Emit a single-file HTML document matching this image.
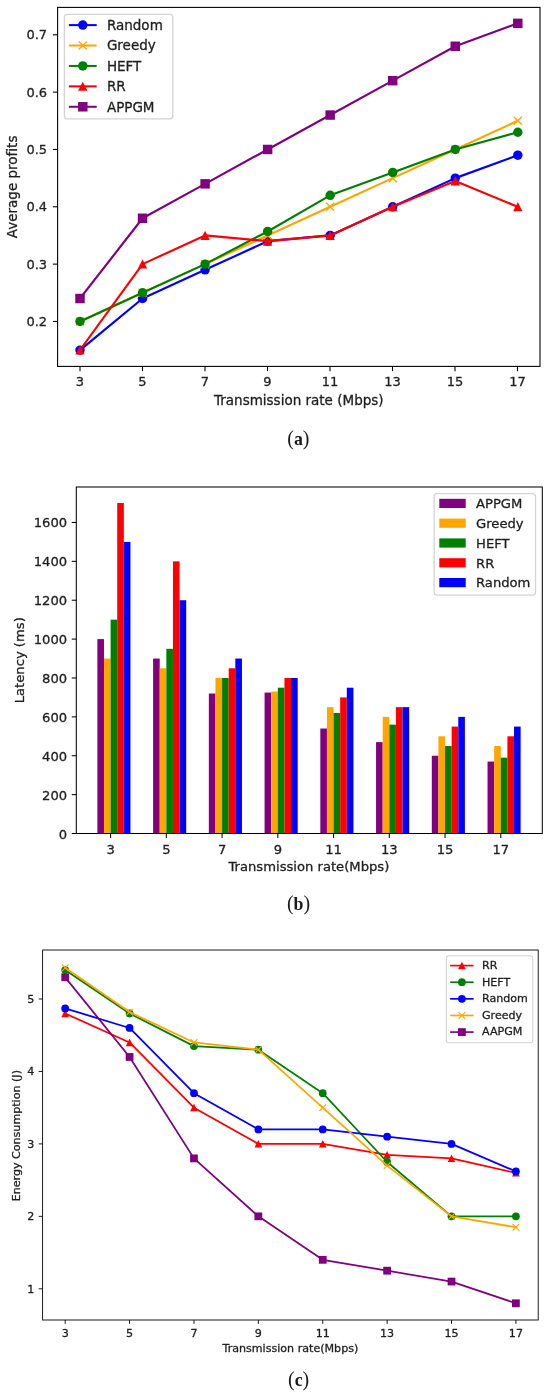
<!DOCTYPE html>
<html lang="en"><head><meta charset="utf-8"><title>Figure</title>
<style>html,body{margin:0;padding:0;background:#fff}svg{display:block}text{font-variant-ligatures:none;font-kerning:normal}</style></head><body>
<svg width="550" height="1396" viewBox="0 0 550 1396">
<rect width="550" height="1396" fill="#fff"/>
<g>
<rect x="57.6" y="7.4" width="482.4" height="359" fill="#fff"/>
<polyline points="80,350.11 142.54,298.52 205.09,269.85 267.63,241.19 330.17,235.45 392.71,206.79 455.26,178.12 517.8,155.19" fill="none" stroke="#0000ff" stroke-width="2.16" stroke-linejoin="round" stroke-linecap="square"/>
<circle cx="80" cy="350.11" r="4.73" fill="#0000ff"/>
<circle cx="142.54" cy="298.52" r="4.73" fill="#0000ff"/>
<circle cx="205.09" cy="269.85" r="4.73" fill="#0000ff"/>
<circle cx="267.63" cy="241.19" r="4.73" fill="#0000ff"/>
<circle cx="330.17" cy="235.45" r="4.73" fill="#0000ff"/>
<circle cx="392.71" cy="206.79" r="4.73" fill="#0000ff"/>
<circle cx="455.26" cy="178.12" r="4.73" fill="#0000ff"/>
<circle cx="517.8" cy="155.19" r="4.73" fill="#0000ff"/>
<polyline points="80,321.45 142.54,292.78 205.09,264.12 267.63,235.45 330.17,206.79 392.71,178.12 455.26,149.46 517.8,120.79" fill="none" stroke="#ffa500" stroke-width="2.16" stroke-linejoin="round" stroke-linecap="square"/>
<path d="M75.95 317.4L84.05 325.5M75.95 325.5L84.05 317.4" stroke="#ffa500" stroke-width="1.35" fill="none"/>
<path d="M138.49 288.73L146.6 296.84M138.49 296.84L146.6 288.73" stroke="#ffa500" stroke-width="1.35" fill="none"/>
<path d="M201.03 260.07L209.14 268.17M201.03 268.17L209.14 260.07" stroke="#ffa500" stroke-width="1.35" fill="none"/>
<path d="M263.58 231.4L271.68 239.51M263.58 239.51L271.68 231.4" stroke="#ffa500" stroke-width="1.35" fill="none"/>
<path d="M326.12 202.74L334.22 210.84M326.12 210.84L334.22 202.74" stroke="#ffa500" stroke-width="1.35" fill="none"/>
<path d="M388.66 174.07L396.77 182.18M388.66 182.18L396.77 174.07" stroke="#ffa500" stroke-width="1.35" fill="none"/>
<path d="M451.2 145.41L459.31 153.51M451.2 153.51L459.31 145.41" stroke="#ffa500" stroke-width="1.35" fill="none"/>
<path d="M513.75 116.74L521.85 124.85M513.75 124.85L521.85 116.74" stroke="#ffa500" stroke-width="1.35" fill="none"/>
<polyline points="80,321.45 142.54,292.78 205.09,264.12 267.63,231.44 330.17,195.32 392.71,172.39 455.26,149.46 517.8,132.26" fill="none" stroke="#008000" stroke-width="2.16" stroke-linejoin="round" stroke-linecap="square"/>
<circle cx="80" cy="321.45" r="4.73" fill="#008000"/>
<circle cx="142.54" cy="292.78" r="4.73" fill="#008000"/>
<circle cx="205.09" cy="264.12" r="4.73" fill="#008000"/>
<circle cx="267.63" cy="231.44" r="4.73" fill="#008000"/>
<circle cx="330.17" cy="195.32" r="4.73" fill="#008000"/>
<circle cx="392.71" cy="172.39" r="4.73" fill="#008000"/>
<circle cx="455.26" cy="149.46" r="4.73" fill="#008000"/>
<circle cx="517.8" cy="132.26" r="4.73" fill="#008000"/>
<polyline points="80,350.11 142.54,264.12 205.09,235.45 267.63,241.19 330.17,235.45 392.71,206.79 455.26,180.99 517.8,206.79" fill="none" stroke="#ff0000" stroke-width="2.16" stroke-linejoin="round" stroke-linecap="square"/>
<path d="M80 345.39L75.34 354.57L84.66 354.57Z" fill="#ff0000"/>
<path d="M142.54 259.39L137.88 268.58L147.2 268.58Z" fill="#ff0000"/>
<path d="M205.09 230.73L200.42 239.91L209.75 239.91Z" fill="#ff0000"/>
<path d="M267.63 236.46L262.97 245.65L272.29 245.65Z" fill="#ff0000"/>
<path d="M330.17 230.73L325.51 239.91L334.83 239.91Z" fill="#ff0000"/>
<path d="M392.71 202.06L388.05 211.25L397.38 211.25Z" fill="#ff0000"/>
<path d="M455.26 176.26L450.6 185.45L459.92 185.45Z" fill="#ff0000"/>
<path d="M517.8 202.06L513.14 211.25L522.46 211.25Z" fill="#ff0000"/>
<polyline points="80,298.52 142.54,218.26 205.09,183.86 267.63,149.46 330.17,115.06 392.71,80.66 455.26,46.27 517.8,23.33" fill="none" stroke="#800080" stroke-width="2.16" stroke-linejoin="round" stroke-linecap="square"/>
<rect x="75.27" y="293.79" width="9.46" height="9.46" fill="#800080"/>
<rect x="137.81" y="213.53" width="9.46" height="9.46" fill="#800080"/>
<rect x="200.36" y="179.13" width="9.46" height="9.46" fill="#800080"/>
<rect x="262.9" y="144.73" width="9.46" height="9.46" fill="#800080"/>
<rect x="325.44" y="110.33" width="9.46" height="9.46" fill="#800080"/>
<rect x="387.99" y="75.94" width="9.46" height="9.46" fill="#800080"/>
<rect x="450.53" y="41.54" width="9.46" height="9.46" fill="#800080"/>
<rect x="513.07" y="18.61" width="9.46" height="9.46" fill="#800080"/>
<rect x="57.6" y="7.4" width="482.4" height="359" fill="none" stroke="#000" stroke-width="1.08"/>
<line x1="80" y1="366.4" x2="80" y2="371.13" stroke="#000" stroke-width="1.08"/>
<text x="80" y="386.12" font-size="13" text-anchor="middle" font-family="'DejaVu Sans','Liberation Sans',sans-serif" fill="#1f1f1f" stroke="#1f1f1f" stroke-width="0.3">3</text>
<line x1="142.5" y1="366.4" x2="142.5" y2="371.13" stroke="#000" stroke-width="1.08"/>
<text x="142.5" y="386.12" font-size="13" text-anchor="middle" font-family="'DejaVu Sans','Liberation Sans',sans-serif" fill="#1f1f1f" stroke="#1f1f1f" stroke-width="0.3">5</text>
<line x1="205" y1="366.4" x2="205" y2="371.13" stroke="#000" stroke-width="1.08"/>
<text x="205" y="386.12" font-size="13" text-anchor="middle" font-family="'DejaVu Sans','Liberation Sans',sans-serif" fill="#1f1f1f" stroke="#1f1f1f" stroke-width="0.3">7</text>
<line x1="267.5" y1="366.4" x2="267.5" y2="371.13" stroke="#000" stroke-width="1.08"/>
<text x="267.5" y="386.12" font-size="13" text-anchor="middle" font-family="'DejaVu Sans','Liberation Sans',sans-serif" fill="#1f1f1f" stroke="#1f1f1f" stroke-width="0.3">9</text>
<line x1="330" y1="366.4" x2="330" y2="371.13" stroke="#000" stroke-width="1.08"/>
<text x="330" y="386.12" font-size="13" text-anchor="middle" font-family="'DejaVu Sans','Liberation Sans',sans-serif" fill="#1f1f1f" stroke="#1f1f1f" stroke-width="0.3">11</text>
<line x1="392.5" y1="366.4" x2="392.5" y2="371.13" stroke="#000" stroke-width="1.08"/>
<text x="392.5" y="386.12" font-size="13" text-anchor="middle" font-family="'DejaVu Sans','Liberation Sans',sans-serif" fill="#1f1f1f" stroke="#1f1f1f" stroke-width="0.3">13</text>
<line x1="455" y1="366.4" x2="455" y2="371.13" stroke="#000" stroke-width="1.08"/>
<text x="455" y="386.12" font-size="13" text-anchor="middle" font-family="'DejaVu Sans','Liberation Sans',sans-serif" fill="#1f1f1f" stroke="#1f1f1f" stroke-width="0.3">15</text>
<line x1="517.5" y1="366.4" x2="517.5" y2="371.13" stroke="#000" stroke-width="1.08"/>
<text x="517.5" y="386.12" font-size="13" text-anchor="middle" font-family="'DejaVu Sans','Liberation Sans',sans-serif" fill="#1f1f1f" stroke="#1f1f1f" stroke-width="0.3">17</text>
<line x1="52.87" y1="321.45" x2="57.6" y2="321.45" stroke="#000" stroke-width="1.08"/>
<text x="47.14" y="326.14" font-size="13" text-anchor="end" font-family="'DejaVu Sans','Liberation Sans',sans-serif" fill="#1f1f1f" stroke="#1f1f1f" stroke-width="0.3">0.2</text>
<line x1="52.87" y1="264.12" x2="57.6" y2="264.12" stroke="#000" stroke-width="1.08"/>
<text x="47.14" y="268.81" font-size="13" text-anchor="end" font-family="'DejaVu Sans','Liberation Sans',sans-serif" fill="#1f1f1f" stroke="#1f1f1f" stroke-width="0.3">0.3</text>
<line x1="52.87" y1="206.79" x2="57.6" y2="206.79" stroke="#000" stroke-width="1.08"/>
<text x="47.14" y="211.48" font-size="13" text-anchor="end" font-family="'DejaVu Sans','Liberation Sans',sans-serif" fill="#1f1f1f" stroke="#1f1f1f" stroke-width="0.3">0.4</text>
<line x1="52.87" y1="149.46" x2="57.6" y2="149.46" stroke="#000" stroke-width="1.08"/>
<text x="47.14" y="154.15" font-size="13" text-anchor="end" font-family="'DejaVu Sans','Liberation Sans',sans-serif" fill="#1f1f1f" stroke="#1f1f1f" stroke-width="0.3">0.5</text>
<line x1="52.87" y1="92.13" x2="57.6" y2="92.13" stroke="#000" stroke-width="1.08"/>
<text x="47.14" y="96.82" font-size="13" text-anchor="end" font-family="'DejaVu Sans','Liberation Sans',sans-serif" fill="#1f1f1f" stroke="#1f1f1f" stroke-width="0.3">0.6</text>
<line x1="52.87" y1="34.8" x2="57.6" y2="34.8" stroke="#000" stroke-width="1.08"/>
<text x="47.14" y="39.49" font-size="13" text-anchor="end" font-family="'DejaVu Sans','Liberation Sans',sans-serif" fill="#1f1f1f" stroke="#1f1f1f" stroke-width="0.3">0.7</text>
<text x="298.8" y="405" font-size="13.5" text-anchor="middle" font-family="'DejaVu Sans','Liberation Sans',sans-serif" fill="#1f1f1f" stroke="#1f1f1f" stroke-width="0.3">Transmission rate (Mbps)</text>
<text x="17.5" y="186.9" font-size="13.5" text-anchor="middle" font-family="'DejaVu Sans','Liberation Sans',sans-serif" fill="#1f1f1f" stroke="#1f1f1f" stroke-width="0.3" transform="rotate(-90 17.5 186.9)">Average profits</text>
<rect x="64.4" y="14.4" width="108.4" height="104.4" rx="2.97" fill="#fff" fill-opacity="0.8" stroke="#d4d4d4" stroke-width="1.35"/>
<line x1="69.9" y1="25.1" x2="95.7" y2="25.1" stroke="#0000ff" stroke-width="2.03" stroke-linecap="square"/>
<circle cx="82.8" cy="25.1" r="4.73" fill="#0000ff"/>
<text x="106.9" y="29.96" font-size="13.5" text-anchor="start" font-family="'DejaVu Sans','Liberation Sans',sans-serif" fill="#1f1f1f" stroke="#1f1f1f" stroke-width="0.3">Random</text>
<line x1="69.9" y1="45.52" x2="95.7" y2="45.52" stroke="#ffa500" stroke-width="2.03" stroke-linecap="square"/>
<path d="M78.75 41.47L86.85 49.57M78.75 49.57L86.85 41.47" stroke="#ffa500" stroke-width="1.35" fill="none"/>
<text x="106.9" y="50.38" font-size="13.5" text-anchor="start" font-family="'DejaVu Sans','Liberation Sans',sans-serif" fill="#1f1f1f" stroke="#1f1f1f" stroke-width="0.3">Greedy</text>
<line x1="69.9" y1="65.94" x2="95.7" y2="65.94" stroke="#008000" stroke-width="2.03" stroke-linecap="square"/>
<circle cx="82.8" cy="65.94" r="4.73" fill="#008000"/>
<text x="106.9" y="70.8" font-size="13.5" text-anchor="start" font-family="'DejaVu Sans','Liberation Sans',sans-serif" fill="#1f1f1f" stroke="#1f1f1f" stroke-width="0.3">HEFT</text>
<line x1="69.9" y1="86.36" x2="95.7" y2="86.36" stroke="#ff0000" stroke-width="2.03" stroke-linecap="square"/>
<path d="M82.8 81.63L78.14 90.82L87.46 90.82Z" fill="#ff0000"/>
<text x="106.9" y="91.22" font-size="13.5" text-anchor="start" font-family="'DejaVu Sans','Liberation Sans',sans-serif" fill="#1f1f1f" stroke="#1f1f1f" stroke-width="0.3">RR</text>
<line x1="69.9" y1="106.78" x2="95.7" y2="106.78" stroke="#800080" stroke-width="2.03" stroke-linecap="square"/>
<rect x="78.07" y="102.05" width="9.46" height="9.46" fill="#800080"/>
<text x="106.9" y="111.64" font-size="13.5" text-anchor="start" font-family="'DejaVu Sans','Liberation Sans',sans-serif" fill="#1f1f1f" stroke="#1f1f1f" stroke-width="0.3">APPGM</text>
</g>
<text x="298.4" y="445.3" font-size="20" text-anchor="middle" font-family="'Liberation Serif','DejaVu Serif',serif" fill="#1a1a1a">(<tspan font-weight="bold" font-size="17.8">a</tspan>)</text>
<g>
<rect x="76.3" y="487" width="466" height="346.5" fill="#fff"/>
<rect x="97.36" y="639.1" width="6.62" height="194.4" fill="#800080"/>
<rect x="153.1" y="658.54" width="6.62" height="174.96" fill="#800080"/>
<rect x="208.84" y="693.53" width="6.62" height="139.97" fill="#800080"/>
<rect x="264.58" y="692.56" width="6.62" height="140.94" fill="#800080"/>
<rect x="320.32" y="728.52" width="6.62" height="104.98" fill="#800080"/>
<rect x="376.06" y="742.13" width="6.62" height="91.37" fill="#800080"/>
<rect x="431.8" y="755.74" width="6.62" height="77.76" fill="#800080"/>
<rect x="487.54" y="761.57" width="6.62" height="71.93" fill="#800080"/>
<rect x="103.98" y="658.54" width="6.62" height="174.96" fill="#ffa500"/>
<rect x="159.72" y="668.26" width="6.62" height="165.24" fill="#ffa500"/>
<rect x="215.46" y="677.98" width="6.62" height="155.52" fill="#ffa500"/>
<rect x="271.2" y="691.59" width="6.62" height="141.91" fill="#ffa500"/>
<rect x="326.94" y="707.14" width="6.62" height="126.36" fill="#ffa500"/>
<rect x="382.68" y="716.86" width="6.62" height="116.64" fill="#ffa500"/>
<rect x="438.42" y="736.3" width="6.62" height="97.2" fill="#ffa500"/>
<rect x="494.16" y="746.02" width="6.62" height="87.48" fill="#ffa500"/>
<rect x="110.6" y="619.66" width="6.62" height="213.84" fill="#008000"/>
<rect x="166.34" y="648.82" width="6.62" height="184.68" fill="#008000"/>
<rect x="222.08" y="677.98" width="6.62" height="155.52" fill="#008000"/>
<rect x="277.82" y="687.7" width="6.62" height="145.8" fill="#008000"/>
<rect x="333.56" y="712.97" width="6.62" height="120.53" fill="#008000"/>
<rect x="389.3" y="724.64" width="6.62" height="108.86" fill="#008000"/>
<rect x="445.04" y="746.02" width="6.62" height="87.48" fill="#008000"/>
<rect x="500.78" y="757.68" width="6.62" height="75.82" fill="#008000"/>
<rect x="117.22" y="503.02" width="6.62" height="330.48" fill="#ff0000"/>
<rect x="172.96" y="561.34" width="6.62" height="272.16" fill="#ff0000"/>
<rect x="228.7" y="668.26" width="6.62" height="165.24" fill="#ff0000"/>
<rect x="284.44" y="677.98" width="6.62" height="155.52" fill="#ff0000"/>
<rect x="340.18" y="697.42" width="6.62" height="136.08" fill="#ff0000"/>
<rect x="395.92" y="707.14" width="6.62" height="126.36" fill="#ff0000"/>
<rect x="451.66" y="726.58" width="6.62" height="106.92" fill="#ff0000"/>
<rect x="507.4" y="736.3" width="6.62" height="97.2" fill="#ff0000"/>
<rect x="123.84" y="541.9" width="6.62" height="291.6" fill="#0000ff"/>
<rect x="179.58" y="600.22" width="6.62" height="233.28" fill="#0000ff"/>
<rect x="235.32" y="658.54" width="6.62" height="174.96" fill="#0000ff"/>
<rect x="291.06" y="677.98" width="6.62" height="155.52" fill="#0000ff"/>
<rect x="346.8" y="687.7" width="6.62" height="145.8" fill="#0000ff"/>
<rect x="402.54" y="707.14" width="6.62" height="126.36" fill="#0000ff"/>
<rect x="458.28" y="716.86" width="6.62" height="116.64" fill="#0000ff"/>
<rect x="514.02" y="726.58" width="6.62" height="106.92" fill="#0000ff"/>
<rect x="76.3" y="487" width="466" height="346.5" fill="none" stroke="#000" stroke-width="1.04"/>
<line x1="110.6" y1="833.5" x2="110.6" y2="838.06" stroke="#000" stroke-width="1.04"/>
<text x="110.6" y="853.62" font-size="13.15" text-anchor="middle" font-family="'DejaVu Sans','Liberation Sans',sans-serif" fill="#1f1f1f" stroke="#1f1f1f" stroke-width="0.3">3</text>
<line x1="166.34" y1="833.5" x2="166.34" y2="838.06" stroke="#000" stroke-width="1.04"/>
<text x="166.34" y="853.62" font-size="13.15" text-anchor="middle" font-family="'DejaVu Sans','Liberation Sans',sans-serif" fill="#1f1f1f" stroke="#1f1f1f" stroke-width="0.3">5</text>
<line x1="222.08" y1="833.5" x2="222.08" y2="838.06" stroke="#000" stroke-width="1.04"/>
<text x="222.08" y="853.62" font-size="13.15" text-anchor="middle" font-family="'DejaVu Sans','Liberation Sans',sans-serif" fill="#1f1f1f" stroke="#1f1f1f" stroke-width="0.3">7</text>
<line x1="277.82" y1="833.5" x2="277.82" y2="838.06" stroke="#000" stroke-width="1.04"/>
<text x="277.82" y="853.62" font-size="13.15" text-anchor="middle" font-family="'DejaVu Sans','Liberation Sans',sans-serif" fill="#1f1f1f" stroke="#1f1f1f" stroke-width="0.3">9</text>
<line x1="333.56" y1="833.5" x2="333.56" y2="838.06" stroke="#000" stroke-width="1.04"/>
<text x="333.56" y="853.62" font-size="13.15" text-anchor="middle" font-family="'DejaVu Sans','Liberation Sans',sans-serif" fill="#1f1f1f" stroke="#1f1f1f" stroke-width="0.3">11</text>
<line x1="389.3" y1="833.5" x2="389.3" y2="838.06" stroke="#000" stroke-width="1.04"/>
<text x="389.3" y="853.62" font-size="13.15" text-anchor="middle" font-family="'DejaVu Sans','Liberation Sans',sans-serif" fill="#1f1f1f" stroke="#1f1f1f" stroke-width="0.3">13</text>
<line x1="445.04" y1="833.5" x2="445.04" y2="838.06" stroke="#000" stroke-width="1.04"/>
<text x="445.04" y="853.62" font-size="13.15" text-anchor="middle" font-family="'DejaVu Sans','Liberation Sans',sans-serif" fill="#1f1f1f" stroke="#1f1f1f" stroke-width="0.3">15</text>
<line x1="500.78" y1="833.5" x2="500.78" y2="838.06" stroke="#000" stroke-width="1.04"/>
<text x="500.78" y="853.62" font-size="13.15" text-anchor="middle" font-family="'DejaVu Sans','Liberation Sans',sans-serif" fill="#1f1f1f" stroke="#1f1f1f" stroke-width="0.3">17</text>
<line x1="71.74" y1="833.5" x2="76.3" y2="833.5" stroke="#000" stroke-width="1.04"/>
<text x="67.18" y="838.5" font-size="13.15" text-anchor="end" font-family="'DejaVu Sans','Liberation Sans',sans-serif" fill="#1f1f1f" stroke="#1f1f1f" stroke-width="0.3">0</text>
<line x1="71.74" y1="794.62" x2="76.3" y2="794.62" stroke="#000" stroke-width="1.04"/>
<text x="67.18" y="799.62" font-size="13.15" text-anchor="end" font-family="'DejaVu Sans','Liberation Sans',sans-serif" fill="#1f1f1f" stroke="#1f1f1f" stroke-width="0.3">200</text>
<line x1="71.74" y1="755.74" x2="76.3" y2="755.74" stroke="#000" stroke-width="1.04"/>
<text x="67.18" y="760.74" font-size="13.15" text-anchor="end" font-family="'DejaVu Sans','Liberation Sans',sans-serif" fill="#1f1f1f" stroke="#1f1f1f" stroke-width="0.3">400</text>
<line x1="71.74" y1="716.86" x2="76.3" y2="716.86" stroke="#000" stroke-width="1.04"/>
<text x="67.18" y="721.86" font-size="13.15" text-anchor="end" font-family="'DejaVu Sans','Liberation Sans',sans-serif" fill="#1f1f1f" stroke="#1f1f1f" stroke-width="0.3">600</text>
<line x1="71.74" y1="677.98" x2="76.3" y2="677.98" stroke="#000" stroke-width="1.04"/>
<text x="67.18" y="682.98" font-size="13.15" text-anchor="end" font-family="'DejaVu Sans','Liberation Sans',sans-serif" fill="#1f1f1f" stroke="#1f1f1f" stroke-width="0.3">800</text>
<line x1="71.74" y1="639.1" x2="76.3" y2="639.1" stroke="#000" stroke-width="1.04"/>
<text x="67.18" y="644.1" font-size="13.15" text-anchor="end" font-family="'DejaVu Sans','Liberation Sans',sans-serif" fill="#1f1f1f" stroke="#1f1f1f" stroke-width="0.3">1000</text>
<line x1="71.74" y1="600.22" x2="76.3" y2="600.22" stroke="#000" stroke-width="1.04"/>
<text x="67.18" y="605.22" font-size="13.15" text-anchor="end" font-family="'DejaVu Sans','Liberation Sans',sans-serif" fill="#1f1f1f" stroke="#1f1f1f" stroke-width="0.3">1200</text>
<line x1="71.74" y1="561.34" x2="76.3" y2="561.34" stroke="#000" stroke-width="1.04"/>
<text x="67.18" y="566.34" font-size="13.15" text-anchor="end" font-family="'DejaVu Sans','Liberation Sans',sans-serif" fill="#1f1f1f" stroke="#1f1f1f" stroke-width="0.3">1400</text>
<line x1="71.74" y1="522.46" x2="76.3" y2="522.46" stroke="#000" stroke-width="1.04"/>
<text x="67.18" y="527.46" font-size="13.15" text-anchor="end" font-family="'DejaVu Sans','Liberation Sans',sans-serif" fill="#1f1f1f" stroke="#1f1f1f" stroke-width="0.3">1600</text>
<text x="308.9" y="870.5" font-size="13.15" text-anchor="middle" font-family="'DejaVu Sans','Liberation Sans',sans-serif" fill="#1f1f1f" stroke="#1f1f1f" stroke-width="0.3">Transmission rate(Mbps)</text>
<text x="23.6" y="660.25" font-size="13.15" text-anchor="middle" font-family="'DejaVu Sans','Liberation Sans',sans-serif" fill="#1f1f1f" stroke="#1f1f1f" stroke-width="0.3" transform="rotate(-90 23.6 660.25)">Latency (ms)</text>
<rect x="434.2" y="493.7" width="101.3" height="101.5" rx="2.87" fill="#fff" fill-opacity="0.8" stroke="#d4d4d4" stroke-width="1.3"/>
<rect x="439.3" y="498.8" width="26.4" height="9.2" fill="#800080"/>
<text x="476" y="508.13" font-size="13.15" text-anchor="start" font-family="'DejaVu Sans','Liberation Sans',sans-serif" fill="#1f1f1f" stroke="#1f1f1f" stroke-width="0.3">APPGM</text>
<rect x="439.3" y="518.6" width="26.4" height="9.2" fill="#ffa500"/>
<text x="476" y="527.93" font-size="13.15" text-anchor="start" font-family="'DejaVu Sans','Liberation Sans',sans-serif" fill="#1f1f1f" stroke="#1f1f1f" stroke-width="0.3">Greedy</text>
<rect x="439.3" y="538.4" width="26.4" height="9.2" fill="#008000"/>
<text x="476" y="547.73" font-size="13.15" text-anchor="start" font-family="'DejaVu Sans','Liberation Sans',sans-serif" fill="#1f1f1f" stroke="#1f1f1f" stroke-width="0.3">HEFT</text>
<rect x="439.3" y="558.2" width="26.4" height="9.2" fill="#ff0000"/>
<text x="476" y="567.53" font-size="13.15" text-anchor="start" font-family="'DejaVu Sans','Liberation Sans',sans-serif" fill="#1f1f1f" stroke="#1f1f1f" stroke-width="0.3">RR</text>
<rect x="439.3" y="578" width="26.4" height="9.2" fill="#0000ff"/>
<text x="476" y="587.33" font-size="13.15" text-anchor="start" font-family="'DejaVu Sans','Liberation Sans',sans-serif" fill="#1f1f1f" stroke="#1f1f1f" stroke-width="0.3">Random</text>
</g>
<text x="298.5" y="910.3" font-size="20" text-anchor="middle" font-family="'Liberation Serif','DejaVu Serif',serif" fill="#1a1a1a">(<tspan font-weight="bold" font-size="17.8">b</tspan>)</text>
<g>
<rect x="42.6" y="950" width="495.6" height="370" fill="#fff"/>
<polyline points="65.2,1013.49 129.59,1042.47 193.97,1107.67 258.36,1143.9 322.74,1143.9 387.13,1154.77 451.51,1158.39 515.9,1172.88" fill="none" stroke="#ff0000" stroke-width="1.78" stroke-linejoin="round" stroke-linecap="square"/>
<path d="M65.2 1009.6L61.37 1017.16L69.03 1017.16Z" fill="#ff0000"/>
<path d="M129.59 1038.58L125.75 1046.14L133.42 1046.14Z" fill="#ff0000"/>
<path d="M193.97 1103.79L190.14 1111.34L197.8 1111.34Z" fill="#ff0000"/>
<path d="M258.36 1140.01L254.52 1147.57L262.19 1147.57Z" fill="#ff0000"/>
<path d="M322.74 1140.01L318.91 1147.57L326.58 1147.57Z" fill="#ff0000"/>
<path d="M387.13 1150.88L383.3 1158.43L390.96 1158.43Z" fill="#ff0000"/>
<path d="M451.51 1154.5L447.68 1162.06L455.35 1162.06Z" fill="#ff0000"/>
<path d="M515.9 1168.99L512.07 1176.55L519.73 1176.55Z" fill="#ff0000"/>
<polyline points="65.2,970.02 129.59,1013.49 193.97,1046.09 258.36,1049.71 322.74,1093.18 387.13,1162.01 451.51,1216.35 515.9,1216.35" fill="none" stroke="#008000" stroke-width="1.78" stroke-linejoin="round" stroke-linecap="square"/>
<circle cx="65.2" cy="970.02" r="3.89" fill="#008000"/>
<circle cx="129.59" cy="1013.49" r="3.89" fill="#008000"/>
<circle cx="193.97" cy="1046.09" r="3.89" fill="#008000"/>
<circle cx="258.36" cy="1049.71" r="3.89" fill="#008000"/>
<circle cx="322.74" cy="1093.18" r="3.89" fill="#008000"/>
<circle cx="387.13" cy="1162.01" r="3.89" fill="#008000"/>
<circle cx="451.51" cy="1216.35" r="3.89" fill="#008000"/>
<circle cx="515.9" cy="1216.35" r="3.89" fill="#008000"/>
<polyline points="65.2,1008.42 129.59,1027.98 193.97,1093.18 258.36,1129.41 322.74,1129.41 387.13,1136.65 451.51,1143.9 515.9,1171.43" fill="none" stroke="#0000ff" stroke-width="1.78" stroke-linejoin="round" stroke-linecap="square"/>
<circle cx="65.2" cy="1008.42" r="3.89" fill="#0000ff"/>
<circle cx="129.59" cy="1027.98" r="3.89" fill="#0000ff"/>
<circle cx="193.97" cy="1093.18" r="3.89" fill="#0000ff"/>
<circle cx="258.36" cy="1129.41" r="3.89" fill="#0000ff"/>
<circle cx="322.74" cy="1129.41" r="3.89" fill="#0000ff"/>
<circle cx="387.13" cy="1136.65" r="3.89" fill="#0000ff"/>
<circle cx="451.51" cy="1143.9" r="3.89" fill="#0000ff"/>
<circle cx="515.9" cy="1171.43" r="3.89" fill="#0000ff"/>
<polyline points="65.2,967.85 129.59,1012.04 193.97,1042.47 258.36,1049.71 322.74,1107.67 387.13,1165.63 451.51,1216.35 515.9,1227.22" fill="none" stroke="#ffa500" stroke-width="1.78" stroke-linejoin="round" stroke-linecap="square"/>
<path d="M61.87 964.51L68.53 971.18M61.87 971.18L68.53 964.51" stroke="#ffa500" stroke-width="1.11" fill="none"/>
<path d="M126.25 1008.71L132.92 1015.37M126.25 1015.37L132.92 1008.71" stroke="#ffa500" stroke-width="1.11" fill="none"/>
<path d="M190.64 1039.14L197.3 1045.8M190.64 1045.8L197.3 1039.14" stroke="#ffa500" stroke-width="1.11" fill="none"/>
<path d="M255.02 1046.38L261.69 1053.05M255.02 1053.05L261.69 1046.38" stroke="#ffa500" stroke-width="1.11" fill="none"/>
<path d="M319.41 1104.34L326.08 1111.01M319.41 1111.01L326.08 1104.34" stroke="#ffa500" stroke-width="1.11" fill="none"/>
<path d="M383.8 1162.3L390.46 1168.97M383.8 1168.97L390.46 1162.3" stroke="#ffa500" stroke-width="1.11" fill="none"/>
<path d="M448.18 1213.02L454.85 1219.68M448.18 1219.68L454.85 1213.02" stroke="#ffa500" stroke-width="1.11" fill="none"/>
<path d="M512.57 1223.88L519.23 1230.55M512.57 1230.55L519.23 1223.88" stroke="#ffa500" stroke-width="1.11" fill="none"/>
<polyline points="65.2,977.26 129.59,1056.96 193.97,1158.39 258.36,1216.35 322.74,1259.82 387.13,1270.69 451.51,1281.55 515.9,1303.29" fill="none" stroke="#800080" stroke-width="1.78" stroke-linejoin="round" stroke-linecap="square"/>
<rect x="61.31" y="973.38" width="7.78" height="7.78" fill="#800080"/>
<rect x="125.7" y="1053.07" width="7.78" height="7.78" fill="#800080"/>
<rect x="190.08" y="1154.5" width="7.78" height="7.78" fill="#800080"/>
<rect x="254.47" y="1212.46" width="7.78" height="7.78" fill="#800080"/>
<rect x="318.85" y="1255.93" width="7.78" height="7.78" fill="#800080"/>
<rect x="383.24" y="1266.8" width="7.78" height="7.78" fill="#800080"/>
<rect x="447.63" y="1277.67" width="7.78" height="7.78" fill="#800080"/>
<rect x="512.01" y="1299.4" width="7.78" height="7.78" fill="#800080"/>
<rect x="42.6" y="950" width="495.6" height="370" fill="none" stroke="#000" stroke-width="0.89"/>
<line x1="65.2" y1="1320" x2="65.2" y2="1323.89" stroke="#000" stroke-width="0.89"/>
<text x="65.2" y="1336.51" font-size="11.1" text-anchor="middle" font-family="'DejaVu Sans','Liberation Sans',sans-serif" fill="#1f1f1f" stroke="#1f1f1f" stroke-width="0.3">3</text>
<line x1="129.59" y1="1320" x2="129.59" y2="1323.89" stroke="#000" stroke-width="0.89"/>
<text x="129.59" y="1336.51" font-size="11.1" text-anchor="middle" font-family="'DejaVu Sans','Liberation Sans',sans-serif" fill="#1f1f1f" stroke="#1f1f1f" stroke-width="0.3">5</text>
<line x1="193.97" y1="1320" x2="193.97" y2="1323.89" stroke="#000" stroke-width="0.89"/>
<text x="193.97" y="1336.51" font-size="11.1" text-anchor="middle" font-family="'DejaVu Sans','Liberation Sans',sans-serif" fill="#1f1f1f" stroke="#1f1f1f" stroke-width="0.3">7</text>
<line x1="258.36" y1="1320" x2="258.36" y2="1323.89" stroke="#000" stroke-width="0.89"/>
<text x="258.36" y="1336.51" font-size="11.1" text-anchor="middle" font-family="'DejaVu Sans','Liberation Sans',sans-serif" fill="#1f1f1f" stroke="#1f1f1f" stroke-width="0.3">9</text>
<line x1="322.74" y1="1320" x2="322.74" y2="1323.89" stroke="#000" stroke-width="0.89"/>
<text x="322.74" y="1336.51" font-size="11.1" text-anchor="middle" font-family="'DejaVu Sans','Liberation Sans',sans-serif" fill="#1f1f1f" stroke="#1f1f1f" stroke-width="0.3">11</text>
<line x1="387.13" y1="1320" x2="387.13" y2="1323.89" stroke="#000" stroke-width="0.89"/>
<text x="387.13" y="1336.51" font-size="11.1" text-anchor="middle" font-family="'DejaVu Sans','Liberation Sans',sans-serif" fill="#1f1f1f" stroke="#1f1f1f" stroke-width="0.3">13</text>
<line x1="451.51" y1="1320" x2="451.51" y2="1323.89" stroke="#000" stroke-width="0.89"/>
<text x="451.51" y="1336.51" font-size="11.1" text-anchor="middle" font-family="'DejaVu Sans','Liberation Sans',sans-serif" fill="#1f1f1f" stroke="#1f1f1f" stroke-width="0.3">15</text>
<line x1="515.9" y1="1320" x2="515.9" y2="1323.89" stroke="#000" stroke-width="0.89"/>
<text x="515.9" y="1336.51" font-size="11.1" text-anchor="middle" font-family="'DejaVu Sans','Liberation Sans',sans-serif" fill="#1f1f1f" stroke="#1f1f1f" stroke-width="0.3">17</text>
<line x1="38.71" y1="1288.8" x2="42.6" y2="1288.8" stroke="#000" stroke-width="0.89"/>
<text x="34.22" y="1292.57" font-size="11.1" text-anchor="end" font-family="'DejaVu Sans','Liberation Sans',sans-serif" fill="#1f1f1f" stroke="#1f1f1f" stroke-width="0.3">1</text>
<line x1="38.71" y1="1216.35" x2="42.6" y2="1216.35" stroke="#000" stroke-width="0.89"/>
<text x="34.22" y="1220.12" font-size="11.1" text-anchor="end" font-family="'DejaVu Sans','Liberation Sans',sans-serif" fill="#1f1f1f" stroke="#1f1f1f" stroke-width="0.3">2</text>
<line x1="38.71" y1="1143.9" x2="42.6" y2="1143.9" stroke="#000" stroke-width="0.89"/>
<text x="34.22" y="1147.67" font-size="11.1" text-anchor="end" font-family="'DejaVu Sans','Liberation Sans',sans-serif" fill="#1f1f1f" stroke="#1f1f1f" stroke-width="0.3">3</text>
<line x1="38.71" y1="1071.45" x2="42.6" y2="1071.45" stroke="#000" stroke-width="0.89"/>
<text x="34.22" y="1075.22" font-size="11.1" text-anchor="end" font-family="'DejaVu Sans','Liberation Sans',sans-serif" fill="#1f1f1f" stroke="#1f1f1f" stroke-width="0.3">4</text>
<line x1="38.71" y1="999" x2="42.6" y2="999" stroke="#000" stroke-width="0.89"/>
<text x="34.22" y="1002.77" font-size="11.1" text-anchor="end" font-family="'DejaVu Sans','Liberation Sans',sans-serif" fill="#1f1f1f" stroke="#1f1f1f" stroke-width="0.3">5</text>
<text x="290.4" y="1351.6" font-size="11.1" text-anchor="middle" font-family="'DejaVu Sans','Liberation Sans',sans-serif" fill="#1f1f1f" stroke="#1f1f1f" stroke-width="0.3">Transmission rate(Mbps)</text>
<text x="20" y="1135.7" font-size="11.1" text-anchor="middle" font-family="'DejaVu Sans','Liberation Sans',sans-serif" fill="#1f1f1f" stroke="#1f1f1f" stroke-width="0.3" transform="rotate(-90 20 1135.7)">Energy Consumption (J)</text>
<rect x="446.4" y="955.7" width="86.3" height="87.1" rx="2.44" fill="#fff" fill-opacity="0.8" stroke="#d4d4d4" stroke-width="1.11"/>
<line x1="451" y1="965.6" x2="472.8" y2="965.6" stroke="#ff0000" stroke-width="1.67" stroke-linecap="square"/>
<path d="M461.9 961.71L458.07 969.27L465.73 969.27Z" fill="#ff0000"/>
<text x="482" y="968.9" font-size="11.1" text-anchor="start" font-family="'DejaVu Sans','Liberation Sans',sans-serif" fill="#1f1f1f" stroke="#1f1f1f" stroke-width="0.3">RR</text>
<line x1="451" y1="982.22" x2="472.8" y2="982.22" stroke="#008000" stroke-width="1.67" stroke-linecap="square"/>
<circle cx="461.9" cy="982.22" r="3.89" fill="#008000"/>
<text x="482" y="985.52" font-size="11.1" text-anchor="start" font-family="'DejaVu Sans','Liberation Sans',sans-serif" fill="#1f1f1f" stroke="#1f1f1f" stroke-width="0.3">HEFT</text>
<line x1="451" y1="998.84" x2="472.8" y2="998.84" stroke="#0000ff" stroke-width="1.67" stroke-linecap="square"/>
<circle cx="461.9" cy="998.84" r="3.89" fill="#0000ff"/>
<text x="482" y="1002.14" font-size="11.1" text-anchor="start" font-family="'DejaVu Sans','Liberation Sans',sans-serif" fill="#1f1f1f" stroke="#1f1f1f" stroke-width="0.3">Random</text>
<line x1="451" y1="1015.46" x2="472.8" y2="1015.46" stroke="#ffa500" stroke-width="1.67" stroke-linecap="square"/>
<path d="M458.57 1012.13L465.23 1018.79M458.57 1018.79L465.23 1012.13" stroke="#ffa500" stroke-width="1.11" fill="none"/>
<text x="482" y="1018.76" font-size="11.1" text-anchor="start" font-family="'DejaVu Sans','Liberation Sans',sans-serif" fill="#1f1f1f" stroke="#1f1f1f" stroke-width="0.3">Greedy</text>
<line x1="451" y1="1032.08" x2="472.8" y2="1032.08" stroke="#800080" stroke-width="1.67" stroke-linecap="square"/>
<rect x="458.01" y="1028.19" width="7.78" height="7.78" fill="#800080"/>
<text x="482" y="1035.38" font-size="11.1" text-anchor="start" font-family="'DejaVu Sans','Liberation Sans',sans-serif" fill="#1f1f1f" stroke="#1f1f1f" stroke-width="0.3">AAPGM</text>
</g>
<text x="298.6" y="1386.3" font-size="20" text-anchor="middle" font-family="'Liberation Serif','DejaVu Serif',serif" fill="#1a1a1a">(<tspan font-weight="bold" font-size="17.8">c</tspan>)</text>
</svg></body></html>
